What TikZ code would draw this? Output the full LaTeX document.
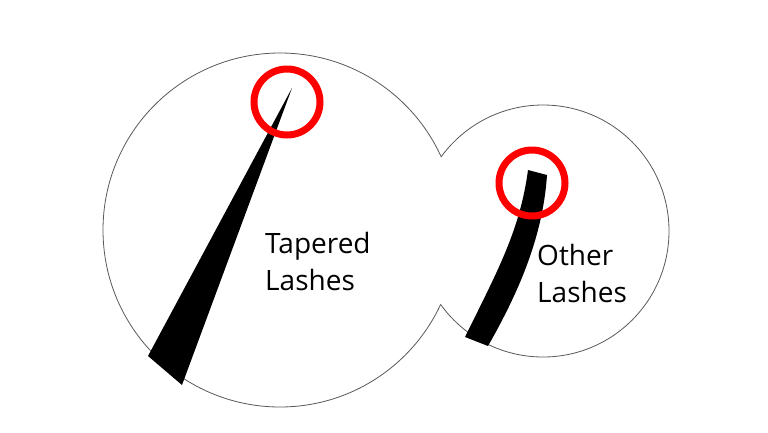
\documentclass[tikz,border=0pt]{standalone}
\usepackage{fontspec}
\setmainfont{Open Sans}
\begin{document}
\begin{tikzpicture}[x=1pt,y=-1pt,
  ring/.style={draw=red,line width=7pt},
  lbl/.style={align=left,font=\fontsize{28}{37}\selectfont,inner sep=0pt}]
\useasboundingbox (0,0) rectangle (768,432);
\fill[white] (0,0) rectangle (768,432);
\coordinate (c1) at (280,230);
\coordinate (c2) at (543,231);
\begin{scope}[even odd rule]
\clip (0,0) rectangle (768,432) (c2) circle[radius=126];
\draw[gray!70!black,line width=0.8pt] (c1) circle[radius=177];
\end{scope}
\begin{scope}[even odd rule]
\clip (0,0) rectangle (768,432) (c1) circle[radius=177];
\draw[gray!70!black,line width=0.8pt] (c2) circle[radius=126];
\end{scope}
% tapered lash
\fill[black] (148,356) -- (292,88) -- (182,385) -- cycle;
% other lash
\fill[black] (465,337) .. controls (498,270) and (520,230) .. (528,170) -- (547,175)
  .. controls (543,235) and (520,290) .. (488,346) -- cycle;
\node[ring,circle,minimum size=66pt,inner sep=0pt] (r1) at (287,102) {};
\node[ring,circle,minimum size=66pt,inner sep=0pt] (r2) at (532,183) {};
\node[lbl,anchor=base west] (t1) at (265,290) {Tapered\\Lashes};
\node[lbl,anchor=base west] (t2) at (537,302) {Other\\Lashes};
\end{tikzpicture}
\end{document}
